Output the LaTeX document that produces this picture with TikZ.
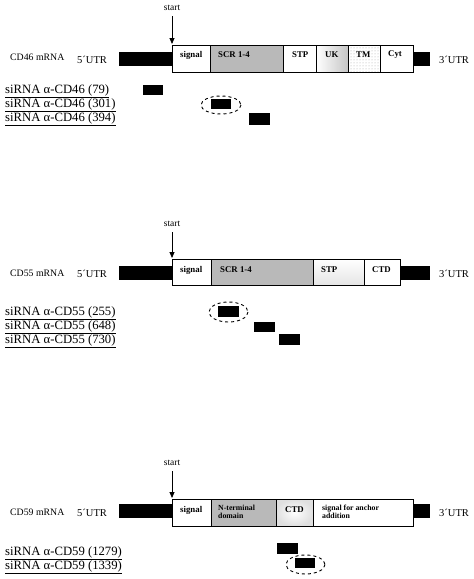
\documentclass[tikz,border=0pt]{standalone}
\usepackage{fontspec}
\setmainfont{Liberation Serif}
\usetikzlibrary{arrows.meta,patterns,shapes.geometric}

\begin{document}
\begin{tikzpicture}[x=1pt,y=-1pt,
  seg/.style={draw, line width=0.9pt},
  segtext/.style={anchor=west, inner sep=0pt, align=left, font=\fontsize{8.8}{9}\selectfont\bfseries},
  smalltext/.style={anchor=west, inner sep=0pt, align=left, font=\fontsize{7.8}{8.5}\selectfont\bfseries},
  utrtext/.style={anchor=west, inner sep=0pt, font=\fontsize{10.5}{12}\selectfont},
  mrna/.style={anchor=west, inner sep=0pt, font=\fontsize{9.8}{11}\selectfont},
  sirna/.style={anchor=west, inner sep=0pt, font=\fontsize{12.7}{14}\selectfont},
  starttext/.style={font=\fontsize{9.5}{10}\selectfont},
  hit/.style={draw, dashed, line width=0.9pt},
  startarrow/.style={-{Triangle[length=6pt,width=5pt]}, line width=0.8pt, shorten <=2pt}]
\useasboundingbox (0,0) rectangle (474,579);

% CD46
\node [starttext] (start46) at (172,8) {start};
\coordinate (atg46) at (172,44);
\draw [startarrow] (start46) -- (atg46);
\fill (119,52) rectangle (172,66);
\fill (413,52) rectangle (430,66);
\draw [seg] (172,45) rectangle (210,72);
\draw [seg, fill=gray!55] (210,45) rectangle (283,72);
\draw [seg] (283,45) rectangle (316,72);
\draw [seg, left color=white, right color=gray!45] (316,45) rectangle (348,72);
\draw [seg, pattern=dots, pattern color=gray!70] (348,45) rectangle (380,72);
\draw [seg] (380,45) rectangle (413,72);
\node [segtext] (sig46) at (180,55) {signal};
\node [segtext] (scr46) at (218,55) {SCR 1-4};
\node [segtext] (stp46) at (292,55) {STP};
\node [segtext] (uk46) at (325,55) {UK};
\node [segtext] (tm46) at (356,55) {TM};
\node [segtext] (cyt46) at (388,55) {Cyt};
\node [mrna] (name46) at (10,57) {CD46 mRNA};
\node [utrtext] (five46) at (77,60) {5´UTR};
\node [utrtext] (three46) at (439,60) {3´UTR};
\node [sirna] (si79) at (5,91) {\underline{siRNA α-CD46 (79)}};
\node [sirna] (si301) at (5,105) {\underline{siRNA α-CD46 (301)}};
\node [sirna] (si394) at (5,119) {\underline{siRNA α-CD46 (394)}};
\fill (143,85) rectangle (163,95);
\fill (211,99) rectangle (231,109);
\fill (249,113) rectangle (270,125);
\draw [hit] (221,105) ellipse [x radius=20, y radius=9];

% CD55
\node [starttext] (start55) at (172,224) {start};
\coordinate (atg55) at (172,258);
\draw [startarrow] (start55) -- (atg55);
\fill (119,266) rectangle (172,280);
\fill (400,266) rectangle (430,280);
\draw [seg] (172,259) rectangle (211,285);
\draw [seg, fill=gray!55] (211,259) rectangle (313,285);
\draw [seg, top color=white, bottom color=gray!20] (313,259) rectangle (364,285);
\draw [seg] (364,259) rectangle (400,285);
\node [segtext] (sig55) at (180,270) {signal};
\node [segtext] (scr55) at (220,270) {SCR 1-4};
\node [segtext] (stp55) at (321,270) {STP};
\node [segtext] (ctd55) at (372,270) {CTD};
\node [mrna] (name55) at (10,273) {CD55 mRNA};
\node [utrtext] (five55) at (77,274) {5´UTR};
\node [utrtext] (three55) at (439,274) {3´UTR};
\node [sirna] (si255) at (5,313) {\underline{siRNA α-CD55 (255)}};
\node [sirna] (si648) at (5,327) {\underline{siRNA α-CD55 (648)}};
\node [sirna] (si730) at (5,341) {\underline{siRNA α-CD55 (730)}};
\fill (218,306) rectangle (239,317);
\fill (254,322) rectangle (275,332);
\fill (279,334) rectangle (300,345);
\draw [hit] (228.5,312) ellipse [x radius=19.5, y radius=10];

% CD59
\node [starttext] (start59) at (172,463) {start};
\coordinate (atg59) at (172,498);
\draw [startarrow] (start59) -- (atg59);
\fill (119,504) rectangle (172,518);
\fill (413,504) rectangle (430,518);
\draw [seg] (172,499) rectangle (211,526);
\draw [seg, fill=gray!55] (211,499) rectangle (276,526);
\draw [seg, inner color=white, outer color=gray!25] (276,499) rectangle (313,526);
\draw [seg] (313,499) rectangle (413,526);
\node [segtext] (sig59) at (180,510) {signal};
\node [smalltext] (nterm59) at (218,512) {N-terminal\\domain};
\node [segtext] (ctd59) at (285,510) {CTD};
\node [smalltext] (anchor59) at (322,512) {signal for anchor\\addition};
\node [mrna] (name59) at (10,512) {CD59 mRNA};
\node [utrtext] (five59) at (77,513) {5´UTR};
\node [utrtext] (three59) at (439,513) {3´UTR};
\node [sirna] (si1279) at (5,553) {\underline{siRNA α-CD59 (1279)}};
\node [sirna] (si1339) at (5,567) {\underline{siRNA α-CD59 (1339)}};
\fill (277,543) rectangle (298,554);
\fill (295,558) rectangle (315,568);
\draw [hit] (305.5,564.5) ellipse [x radius=19.5, y radius=9.5];
\end{tikzpicture}
\end{document}
